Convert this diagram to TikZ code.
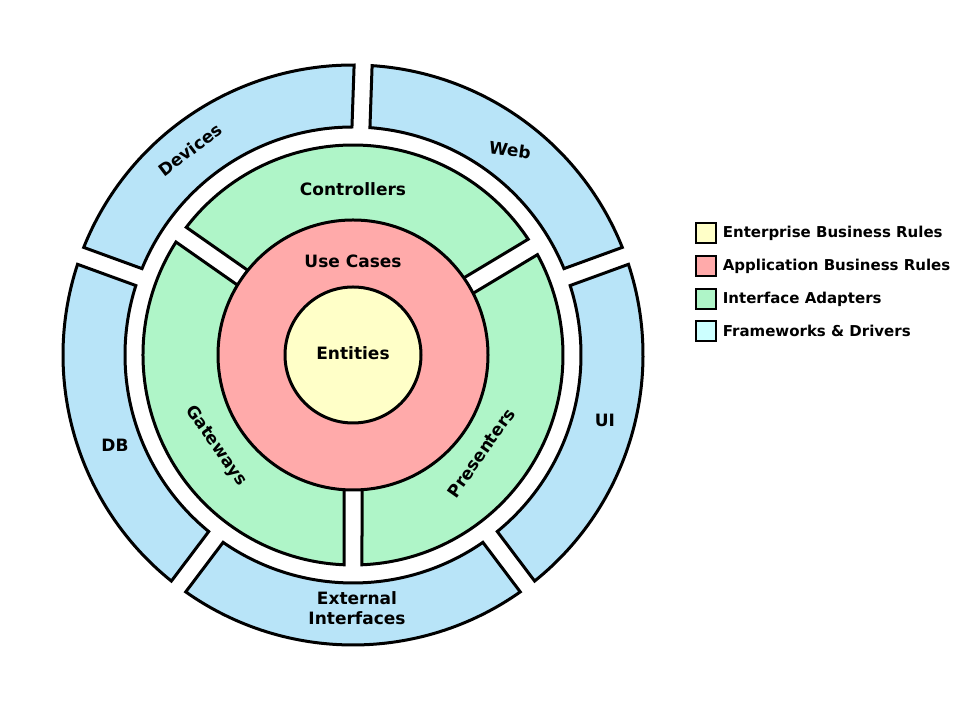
\documentclass[tikz,border=0pt]{standalone}
\usepackage{fontspec}
\setmainfont{DejaVu Sans}
\begin{document}
\begin{tikzpicture}[x=1pt,y=1pt,line width=3pt,
  lbl/.style={font=\bfseries\fontsize{17}{20}\selectfont,align=center},
  leg/.style={font=\bfseries\fontsize{15}{17}\selectfont,anchor=west},
  box/.style={draw,line width=1.5pt,minimum size=20pt,inner sep=0pt}]
\definecolor{cy}{HTML}{FFFFC8}
\definecolor{cp}{HTML}{FFAAAA}
\definecolor{cg}{HTML}{AFF5C8}
\definecolor{cb}{HTML}{B8E4F8}
\definecolor{cc}{HTML}{CCFFFF}
\useasboundingbox (0,0) rectangle (980,706);
\newcommand{\ringseg}[5]{%
  \filldraw[fill=#5] ({#3+asin(9/#2)}:#2) arc[start angle={#3+asin(9/#2)}, end angle={#4-asin(9/#2)}, radius=#2]
   -- ({#4-asin(9/#1)}:#1) arc[start angle={#4-asin(9/#1)}, end angle={#3+asin(9/#1)}, radius=#1] -- cycle;}
\begin{scope}[shift={(353,351)}]
\ringseg{228}{290}{20}{88}{cb}
\ringseg{228}{290}{88}{160}{cb}
\ringseg{228}{290}{160}{233}{cb}
\ringseg{228}{290}{233}{307}{cb}
\ringseg{228}{290}{307}{380}{cb}
\ringseg{128}{210}{31}{145}{cg}
\ringseg{128}{210}{145}{270}{cg}
\ringseg{128}{210}{270}{391}{cg}
\filldraw[fill=cp] (0,0) circle (135);
\filldraw[fill=cy] (0,0) circle (68);
\end{scope}
\node[lbl] (ent) at (353,353) {Entities};
\node[lbl] (uc) at (353,445) {Use Cases};
\node[lbl] (ctl) at (353,517) {Controllers};
\node[lbl,rotate=-55] (gw) at (216,260) {Gateways};
\node[lbl,rotate=55] (pr) at (481,253) {Presenters};
\node[lbl,rotate=37] (dev) at (190,556) {Devices};
\node[lbl,rotate=-8] (web) at (510,556) {Web};
\node[lbl] (db) at (115,261) {DB};
\node[lbl] (ui) at (605,286) {UI};
\node[lbl] (ext) at (357,98) {External\\Interfaces};
\node[box,fill=cy] (l1) at (706,473) {};
\node[box,fill=cp] (l2) at (706,440) {};
\node[box,fill=cg] (l3) at (706,407) {};
\node[box,fill=cc] (l4) at (706,375) {};
\node[leg] (t1) at (718,473) {Enterprise Business Rules};
\node[leg] (t2) at (718,440) {Application Business Rules};
\node[leg] (t3) at (718,407) {Interface Adapters};
\node[leg] (t4) at (718,375) {Frameworks \& Drivers};
\end{tikzpicture}
\end{document}
